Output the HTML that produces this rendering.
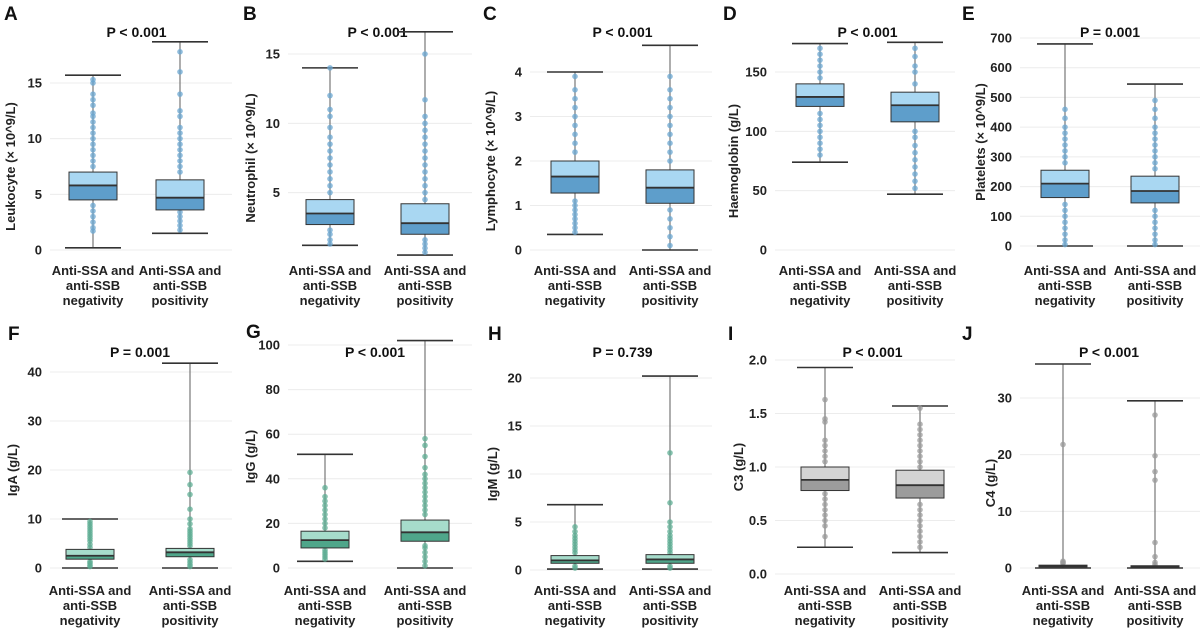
<!DOCTYPE html>
<html><head><meta charset="utf-8"><style>
body{margin:0;background:#fff;}
svg{display:block;font-family:"Liberation Sans",sans-serif;}
</style></head><body>
<svg id="fig" width="1200" height="628" viewBox="0 0 1200 628"></svg>
<script>
const panelLetters=["A","B","C","D","E","F","G","H","I","J"];
const yTitles=["Leukocyte (× 10^9/L)","Neutrophil (× 10^9/L)","Lymphocyte (× 10^9/L)","Haemoglobin (g/L)","Platelets (× 10^9/L)","IgA (g/L)","IgG (g/L)","IgM (g/L)","C3 (g/L)","C4 (g/L)"];
const pLabels=["P < 0.001","P < 0.001","P < 0.001","P < 0.001","P = 0.001","P = 0.001","P < 0.001","P = 0.739","P < 0.001","P < 0.001"];
const categories=[["Anti-SSA and","anti-SSB","negativity"],["Anti-SSA and","anti-SSB","positivity"]];
const yTicks=[[0,5,10,15],[5,10,15],[0,1,2,3,4],[0,50,100,150],[0,100,200,300,400,500,600,700],[0,10,20,30,40],[0,20,40,60,80,100],[0,5,10,15,20],[0,0.5,1,1.5,2],[0,10,20,30]];
const tickFmt=[0,0,0,0,0,0,0,0,1,0];
// [low, q1, median, q3, high] for negativity / positivity
const negStats=[[0.2,4.5,5.8,7.0,15.7],[1.2,2.7,3.5,4.5,14],[0.35,1.28,1.65,2.0,4.0],[74,121,129,140,174],[0,163,210,255,680],[0,1.8,2.5,3.8,10],[3,9,12.5,16.5,51],[0.1,0.7,1.0,1.5,6.8],[0.25,0.78,0.88,1.0,1.93],[0,0.2,0.3,0.5,36]];
const posStats=[[1.5,3.6,4.7,6.3,18.7],[0.5,2.0,2.8,4.2,16.6],[0,1.05,1.4,1.8,4.6],[47,108,122,133,175],[0,145,185,235,545],[0,2.3,3.2,4.0,41.8],[0,12,16,21.5,102],[0.1,0.7,1.1,1.6,20.2],[0.2,0.71,0.83,0.97,1.57],[0,0.1,0.2,0.4,29.5]];
const negOutliers=[
 [1.7,2,2.5,3,3.5,4,7.5,8,8.5,9,9.5,10,10.5,11,11.5,12,12.3,13,13.5,14,15,15.3],
 [1.3,1.6,2,2.3,5,5.5,6,6.5,7,7.5,8,8.5,9,9.7,10.5,11,12,14],
 [0.4,0.5,0.6,0.7,0.8,0.9,1,1.1,2.2,2.4,2.6,2.8,3,3.2,3.4,3.6,3.9],
 [80,85,90,95,100,105,110,115,145,150,155,160,165,170],
 [5,20,40,60,80,100,120,140,280,300,320,340,360,380,400,430,460],
 [0.3,0.6,1,1.3,4.2,4.8,5.5,6,6.5,7,7.5,8,8.5,9,9.5],
 [4,5,6,7,8,18,20,22,24,26,28,30,32,36],
 [0.2,0.4,1.8,2.1,2.4,2.7,3,3.3,3.6,4,4.5],
 [0.35,0.45,0.5,0.55,0.6,0.65,0.7,0.75,1.05,1.1,1.15,1.2,1.25,1.42,1.45,1.63],
 [0.8,1,1.2,21.8]];
const posOutliers=[
 [1.8,2.2,2.6,3,3.4,7,7.5,8,8.5,9,9.5,10,10.5,11,12,12.5,14,16,17.8],
 [0.7,1,1.3,1.6,4.5,5,5.5,6,6.5,7,7.5,8,8.5,9,9.5,10,10.5,11.7,15],
 [0.1,0.3,0.5,0.7,0.9,2,2.2,2.4,2.6,2.8,3,3.2,3.4,3.6,3.9],
 [52,58,64,70,76,82,88,95,100,140,150,155,163,170],
 [5,20,40,60,80,100,120,260,280,300,320,340,360,380,400,430,460,490],
 [0.3,0.7,1.2,1.7,4.5,5,5.5,6,6.5,7,7.5,8,9,10,12,15,17,19.5],
 [1,3,5,7,9,10,24,26,28,30,32,34,36,38,40,42,45,50,55,58],
 [0.2,0.4,1.8,2.1,2.4,2.7,3,3.3,3.6,4,4.5,5,7,12.2],
 [0.25,0.3,0.35,0.4,0.45,0.5,0.55,0.6,0.65,1.0,1.05,1.1,1.15,1.2,1.25,1.3,1.35,1.4,1.55],
 [0.6,1,2,4.5,15.5,17,19.8,27]];

// layout (not data)
const L=[
 {x0:50,x1:232,ly0:250,ly1:83,v0:0,v1:15,c:[93,180],ty:32,lx:4,ly:8,tx:10,scheme:0},
 {x0:288,x1:472,ly0:262,ly1:54,v0:0,v1:15,c:[330,425],ty:32,lx:243,ly:8,tx:250,scheme:0},
 {x0:530,x1:712,ly0:250,ly1:72,v0:0,v1:4,c:[575,670],ty:32,lx:483,ly:8,tx:490,scheme:0},
 {x0:775,x1:955,ly0:250,ly1:72,v0:0,v1:150,c:[820,915],ty:32,lx:723,ly:8,tx:733,scheme:0},
 {x0:1020,x1:1200,ly0:246,ly1:38,v0:0,v1:700,c:[1065,1155],ty:32,lx:962,ly:8,tx:980,scheme:0},
 {x0:50,x1:232,ly0:568,ly1:372,v0:0,v1:40,c:[90,190],ty:352,lx:8,ly:328,tx:12,scheme:1},
 {x0:288,x1:472,ly0:568,ly1:345,v0:0,v1:100,c:[325,425],ty:352,lx:246,ly:326,tx:250,scheme:1},
 {x0:530,x1:712,ly0:570,ly1:378,v0:0,v1:20,c:[575,670],ty:352,lx:488,ly:328,tx:492,scheme:1},
 {x0:775,x1:955,ly0:574,ly1:360,v0:0,v1:2,c:[825,920],ty:352,lx:728,ly:328,tx:738,scheme:2},
 {x0:1020,x1:1200,ly0:568,ly1:398,v0:0,v1:30,c:[1063,1155],ty:352,lx:962,ly:328,tx:990,scheme:2}
];
const schemes=[{lt:"#a9d7f2",dk:"#5e9ecb",pt:"#6aa6d0"},{lt:"#a6dccb",dk:"#4fa68a",pt:"#5fae94"},{lt:"#d4d4d4",dk:"#9c9c9c",pt:"#9a9a9a"}];
const NS="http://www.w3.org/2000/svg";
const svg=document.getElementById("fig");
function mk(tag,attrs,parent,text){const e=document.createElementNS(NS,tag);for(const k in attrs)e.setAttribute(k,attrs[k]);if(text!==undefined)e.textContent=text;(parent||svg).appendChild(e);return e;}

L.forEach((p,i)=>{
 const g=mk("g",{});
 
 
 const y=v=>p.ly0+(v-p.v0)*(p.ly1-p.ly0)/(p.v1-p.v0);
 const sc=schemes[p.scheme];
 yTicks[i].forEach(t=>{
  const gl=mk("line",{x1:p.x0,x2:p.x1,y1:y(t),y2:y(t),stroke:"#ececec","stroke-width":1},g);
  
  
  const tl=mk("text",{x:p.x0-8,y:y(t)+4.5,"text-anchor":"end","font-size":13,"font-weight":"bold",fill:"#222"},g,t.toFixed(tickFmt[i]));
  
  
 });
 const letter=mk("text",{x:p.lx,y:p.ly+12,"font-size":19,"font-weight":"bold",fill:"#111"},g,panelLetters[i]);
 
 
 const midY=(p.ly0+p.ly1)/2;
 const yt=mk("text",{x:p.tx+5,y:midY,transform:`rotate(-90 ${p.tx+5} ${midY})`,"text-anchor":"middle","font-size":13,"font-weight":"bold",fill:"#222"},g,yTitles[i]);
 
 
 const pt=mk("text",{x:(p.c[0]+p.c[1])/2,y:p.ty+5,"text-anchor":"middle","font-size":14,"font-weight":"bold",fill:"#111"},g,pLabels[i]);
 
 
 [negStats[i],posStats[i]].forEach((s,j)=>{
  const cx=p.c[j], hw=24, cw=28;
  const bg=mk("g",{},g);
  
  
  mk("line",{x1:cx,x2:cx,y1:y(s[0]),y2:y(s[4]),stroke:"#777","stroke-width":1.2},bg);
  mk("line",{x1:cx-cw,x2:cx+cw,y1:y(s[4]),y2:y(s[4]),stroke:"#333","stroke-width":1.6},bg);
  mk("line",{x1:cx-cw,x2:cx+cw,y1:y(s[0]),y2:y(s[0]),stroke:"#333","stroke-width":1.6},bg);
  (j?posOutliers:negOutliers)[i].forEach(v=>{
   const c=mk("circle",{cx:cx,cy:y(v),r:2.8,fill:sc.pt,opacity:0.75},bg);
   
   
  });
  mk("rect",{x:cx-hw,y:y(s[3]),width:hw*2,height:y(s[2])-y(s[3]),fill:sc.lt,stroke:"#333","stroke-width":1},bg);
  mk("rect",{x:cx-hw,y:y(s[2]),width:hw*2,height:y(s[1])-y(s[2]),fill:sc.dk,stroke:"#333","stroke-width":1},bg);
  mk("line",{x1:cx-hw,x2:cx+hw,y1:y(s[2]),y2:y(s[2]),stroke:"#333","stroke-width":1.8},bg);
  const base=i<5?275:595;
  categories[j].forEach((ln,k)=>{
   const t=mk("text",{x:cx,y:base+k*15,"text-anchor":"middle","font-size":13,"font-weight":"bold",fill:"#222"},g,ln);
   
   
  });
 });
});
</script>
</body></html>
